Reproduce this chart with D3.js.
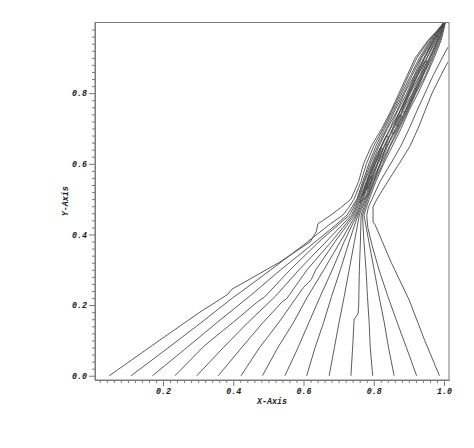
<!DOCTYPE html>
<html><head><meta charset="utf-8">
<script src="https://cdn.jsdelivr.net/npm/d3@7"></script>
<style>
body{margin:0;background:#fff}
text{font-family:"Liberation Mono","DejaVu Sans Mono",monospace;font-weight:bold;font-style:italic;}
</style>
</head><body>
<svg id="c" width="474" height="448"></svg>
<script>
// ---------- tick labels ----------
const xMajor = [0.2, 0.4, 0.6, 0.8, 1.0];
const xLabels = ["0.2", "0.4", "0.6", "0.8", "1.0"];
const yMajor = [0.0, 0.2, 0.4, 0.6, 0.8];
const yLabels = ["0.0", "0.2", "0.4", "0.6", "0.8"];
const xTitle = "X-Axis";
const yTitle = "Y-Axis";

// plotted frame extents (data units)
const xExtent = [0.0064, 1.0142];
const yExtent = [-0.012, 1.0];

// ---------- contour lines: lower fan part (bottom -> focus) ----------
const fan0  = [[.047,0],[.191,.101],[.305,.180],[.368,.220],[.385,.231],[.396,.245],[.448,.274],[.533,.322],[.619,.379],[.636,.407],[.641,.430],[.678,.455],[.705,.475]];
const fan1  = [[.109,0],[.200,.068],[.308,.150],[.400,.222],[.420,.236],[.507,.300],[.600,.370],[.670,.425],[.712,.455],[.728,.475]];
const fan2  = [[.170,0],[.262,.075],[.353,.150],[.450,.228],[.535,.300],[.610,.360],[.690,.425],[.724,.455]];
const fan3  = [[.234,0],[.318,.085],[.398,.150],[.470,.210],[.488,.222],[.562,.300],[.650,.385],[.731,.455]];
const fan4  = [[.296,0],[.372,.080],[.441,.150],[.520,.225],[.587,.300],[.660,.375],[.737,.455]];
const fan5  = [[.357,0],[.420,.075],[.484,.150],[.540,.210],[.552,.218],[.610,.300],[.680,.380],[.741,.455]];
const fan6  = [[.422,0],[.475,.080],[.529,.150],[.575,.215],[.600,.250],[.612,.262],[.622,.272],[.635,.300],[.690,.380],[.745,.455]];
const fan7  = [[.483,0],[.527,.080],[.571,.150],[.612,.225],[.658,.300],[.705,.380],[.749,.455]];
const fan8  = [[.547,0],[.580,.070],[.615,.150],[.650,.230],[.682,.300],[.716,.380],[.752,.455]];
const fan9  = [[.609,0],[.633,.080],[.657,.150],[.680,.225],[.705,.300],[.730,.380],[.755,.455]];
const fan10 = [[.673,0],[.688,.080],[.701,.150],[.716,.225],[.730,.300],[.745,.380],[.759,.455]];
const fan11 = [[.735,0],[.741,.100],[.744,.160],[.755,.175],[.757,.195],[.759,.300],[.762,.380],[.764,.455]];
const fan12 = [[.797,0],[.790,.080],[.787,.150],[.782,.225],[.778,.300],[.772,.380],[.768,.455]];
const fan13 = [[.858,0],[.842,.080],[.830,.150],[.815,.225],[.801,.300],[.786,.380],[.772,.455]];
const fan14 = [[.922,0],[.893,.080],[.867,.150],[.840,.225],[.815,.300],[.795,.370],[.783,.420],[.780,.455],[.785,.478]];
const fan15 = [[.987,0],[.945,.100],[.901,.214],[.850,.320],[.804,.427],[.798,.435],[.798,.478]];

// ---------- contour lines: upper band part (x at each band level) ----------
const bandLevels = [0.50, 0.55, 0.60, 0.65, 0.70, 0.75, 0.80, 0.85, 0.90, 0.95, 1.00];
const band0  = [.735,.757,.771,.793,.823,.849,.872,.895,.918,.955,1.003];
const band1  = [.744,.764,.779,.800,.827,.852,.876,.899,.923,.957,1.000];
const band2  = [.752,.769,.786,.806,.831,.856,.880,.905,.930,.961,.999];
const band3  = [.754,.772,.790,.811,.836,.860,.885,.909,.934,.964,.999];
const band4  = [.757,.774,.795,.815,.839,.866,.888,.915,.937,.967,1.000];
const band5  = [.760,.779,.797,.821,.846,.868,.894,.917,.943,.969,1.000];
const band6  = [.763,.780,.803,.823,.848,.875,.899,.923,.945,.973,1.000];
const band7  = [.767,.786,.805,.829,.854,.876,.902,.925,.951,.975,1.001];
const band8  = [.770,.787,.810,.831,.857,.881,.904,.931,.952,.978,1.001];
const band9  = [.774,.793,.812,.837,.862,.883,.910,.933,.958,.981,1.002];
const band10 = [.777,.795,.818,.839,.865,.889,.912,.939,.960,.984,1.002];
const band11 = [.780,.799,.820,.845,.870,.891,.918,.941,.965,.986,1.003];
const band12 = [.783,.802,.825,.847,.873,.897,.920,.947,.968,.989,1.003];
const band13 = [.787,.806,.828,.853,.878,.900,.926,.950,.972,.992,1.004];
const band14 = [.795,.818,.848,.877,.901,.923,.946,.969,.995];
const band15 = [.809,.840,.872,.903,.926,.946,.966,.991];
// lines 14 and 15 leave through the right border
const end14 = [1.011, .930];
const end15 = [1.011, .888];

// ---------- closed contours inside the dark core of the band ----------
const loop1 = [[.760,.490],[.775,.530],[.792,.580],[.808,.620],[.826,.660],[.836,.680],[.842,.675],[.832,.640],[.818,.600],[.800,.550],[.783,.510],[.760,.490]];
const loop2 = [[.768,.510],[.790,.570],[.812,.620],[.822,.645],[.826,.640],[.806,.590],[.787,.540],[.768,.510]];
const loop3 = [[.850,.690],[.870,.740],[.893,.790],[.915,.840],[.940,.890],[.965,.940],[.978,.965],[.985,.960],[.970,.920],[.948,.870],[.926,.820],[.904,.770],[.880,.720],[.858,.685],[.850,.690]];
const loop4 = [[.880,.750],[.900,.800],[.925,.850],[.945,.890],[.952,.890],[.932,.840],[.910,.790],[.888,.745],[.880,.750]];
const loop5 = [[.862,.712],[.874,.738],[.880,.734],[.868,.708],[.862,.712]];
const loop6 = [[.776,.530],[.792,.565],[.797,.562],[.782,.527],[.776,.530]];

const fans  = [fan0,fan1,fan2,fan3,fan4,fan5,fan6,fan7,fan8,fan9,fan10,fan11,fan12,fan13,fan14,fan15];
const bands = [band0,band1,band2,band3,band4,band5,band6,band7,band8,band9,band10,band11,band12,band13,band14,band15];
const ends  = [null,null,null,null,null,null,null,null,null,null,null,null,null,null,end14,end15];
const loops = [loop1, loop2, loop3, loop4, loop5, loop6];

const contours = fans.map((f, i) => {
  const pts = f.slice();
  bands[i].forEach((v, j) => pts.push([v, bandLevels[j]]));
  if (ends[i]) pts.push(ends[i]);
  return pts;
}).concat(loops);

// ---------- drawing ----------
const svg = d3.select("#c");
const L = 95, R = 449, T = 22.5, B = 380;
const x = d3.scaleLinear().domain(xExtent).range([L, R]);
const y = d3.scaleLinear().domain(yExtent).range([B, T]);

const frameColor = "#7a7a7a";

svg.append("defs").append("clipPath").attr("id", "clip")
  .append("rect").attr("x", L).attr("y", T).attr("width", R - L).attr("height", B - T);

const line = d3.line().x(d => x(d[0])).y(d => y(d[1]));
svg.append("g").attr("clip-path", "url(#clip)")
  .selectAll("path").data(contours).join("path")
  .attr("d", line)
  .attr("fill", "none")
  .attr("stroke", "#4a4a4a")
  .attr("stroke-width", 0.9)
  .attr("stroke-linejoin", "round");

// frame
svg.append("rect").attr("x", L).attr("y", T).attr("width", R - L).attr("height", B - T)
  .attr("fill", "none").attr("stroke", frameColor).attr("stroke-width", 1);

// minor ticks
const xMinor = d3.range(1, 51).map(k => +(k * 0.02).toFixed(2)).filter(v => !xMajor.some(m => Math.abs(m - v) < 1e-9));
const yMinor = d3.range(0, 50).map(k => +(k * 0.02).toFixed(2)).filter(v => !yMajor.some(m => Math.abs(m - v) < 1e-9));

function styleAxis(g) {
  g.select(".domain").attr("stroke", frameColor);
  g.selectAll(".tick line").attr("stroke", frameColor);
  g.selectAll(".tick text").attr("fill", "#222").style("font-size", "8.3px");
}

svg.append("g").attr("transform", `translate(0,${B})`)
  .call(d3.axisBottom(x).tickValues(xMinor).tickSize(3).tickSizeOuter(0).tickFormat(""))
  .call(styleAxis);
svg.append("g").attr("transform", `translate(0,${B})`)
  .call(d3.axisBottom(x).tickValues(xMajor).tickSize(6).tickSizeOuter(0).tickPadding(2)
    .tickFormat((d, i) => xLabels[i]))
  .call(styleAxis);

svg.append("g").attr("transform", `translate(${L},0)`)
  .call(d3.axisLeft(y).tickValues(yMinor).tickSize(3).tickSizeOuter(0).tickFormat(""))
  .call(styleAxis);
svg.append("g").attr("transform", `translate(${L},0)`)
  .call(d3.axisLeft(y).tickValues(yMajor).tickSize(6).tickSizeOuter(0).tickPadding(2)
    .tickFormat((d, i) => yLabels[i]))
  .call(styleAxis);

// axis titles
svg.append("text").attr("x", (L + R) / 2).attr("y", 404)
  .attr("text-anchor", "middle").attr("fill", "#222").style("font-size", "8.3px").text(xTitle);
svg.append("text").attr("transform", `translate(68,${(T + B) / 2}) rotate(-90)`)
  .attr("text-anchor", "middle").attr("fill", "#222").style("font-size", "8.3px").text(yTitle);
</script>
</body></html>
